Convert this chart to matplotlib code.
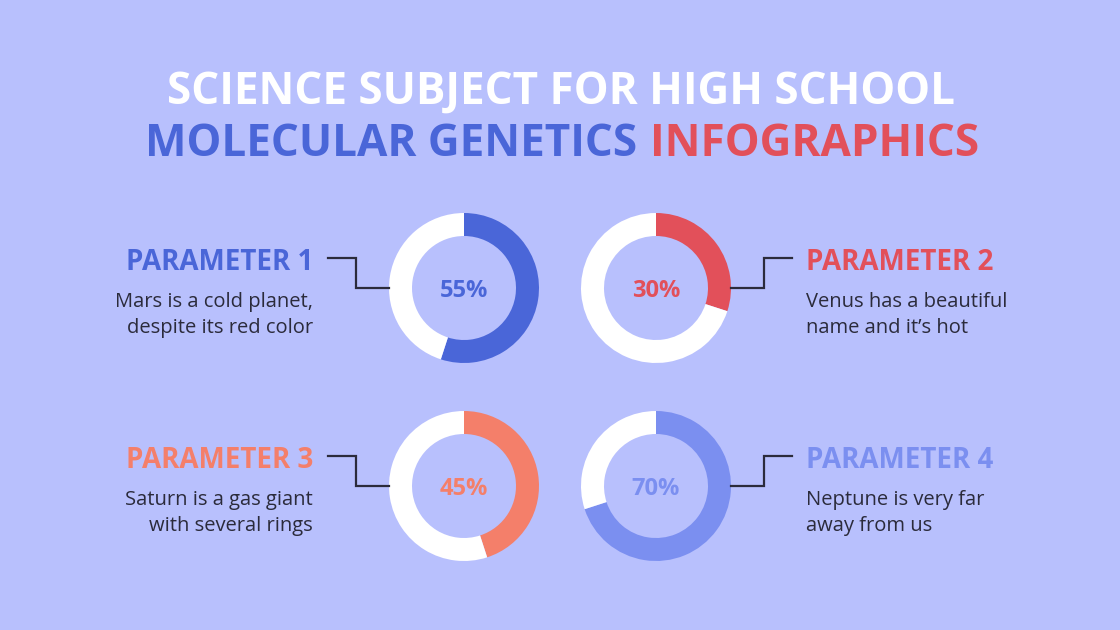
import matplotlib.pyplot as plt

# data
labels = ['PARAMETER 1', 'PARAMETER 2', 'PARAMETER 3', 'PARAMETER 4']
values = [55, 30, 45, 70]
descs = ['Mars is a cold planet,\ndespite its red color',
         'Venus has a beautiful\nname and it\u2019s hot',
         'Saturn is a gas giant\nwith several rings',
         'Neptune is very far\naway from us']
colors = ['#4a66d8', '#e2505a', '#f47f6a', '#7b8ff0']

bg = '#b8c0fd'
dark = '#2b2b3b'
plt.rcParams['font.family'] = ['Open Sans', 'DejaVu Sans']

fig = plt.figure(figsize=(11.2, 6.3), dpi=100, facecolor=bg)
ax = fig.add_axes([0, 0, 1, 1])
ax.set_facecolor(bg)

H = 630
centers = [(464, 288), (656, 288), (464, 486), (656, 486)]
R, W = 75, 23

for i, (v, c) in enumerate(zip(values, colors)):
    cx, cy = centers[i]
    ax.pie([v, 100 - v], colors=[c, 'white'], center=(cx, H - cy), radius=R,
           startangle=90, counterclock=False, frame=True,
           wedgeprops=dict(width=W, linewidth=0))
    ax.text(cx, H - cy - 3, f'{v}%', ha='center', va='center', color=c,
            fontsize=17, fontweight='bold')
    left = i % 2 == 0
    ly = cy - 30
    if left:
        ax.plot([328, 356, 356, cx - R], [H - ly, H - ly, H - cy, H - cy],
                color=dark, lw=1.6, solid_joinstyle='miter')
        tx, ha = 313, 'right'
    else:
        ax.plot([cx + R, 764, 764, 792], [H - cy, H - cy, H - ly, H - ly],
                color=dark, lw=1.6, solid_joinstyle='miter')
        tx, ha = 806, 'left'
    ax.text(tx, H - ly - 4, labels[i], ha=ha, va='center', color=c,
            fontsize=20, fontweight='bold')
    ax.text(tx, H - (ly + 57), descs[i], ha=ha, va='center', color=dark,
            fontsize=14.5, linespacing=1.35)

ax.text(561, H - 92, 'SCIENCE SUBJECT FOR HIGH SCHOOL', ha='center', va='center',
        color='white', fontsize=31.7, fontweight='bold')
ax.text(637, H - 145, 'MOLECULAR GENETICS', ha='right', va='center',
        color='#4a66d8', fontsize=31.7, fontweight='bold')
ax.text(650, H - 145, 'INFOGRAPHICS', ha='left', va='center',
        color='#e2505a', fontsize=31.7, fontweight='bold')

ax.set_xlim(0, 1120)
ax.set_ylim(0, H)
ax.set_aspect('auto')
ax.axis('off')
fig.savefig('out.png', dpi=100, facecolor=bg)
